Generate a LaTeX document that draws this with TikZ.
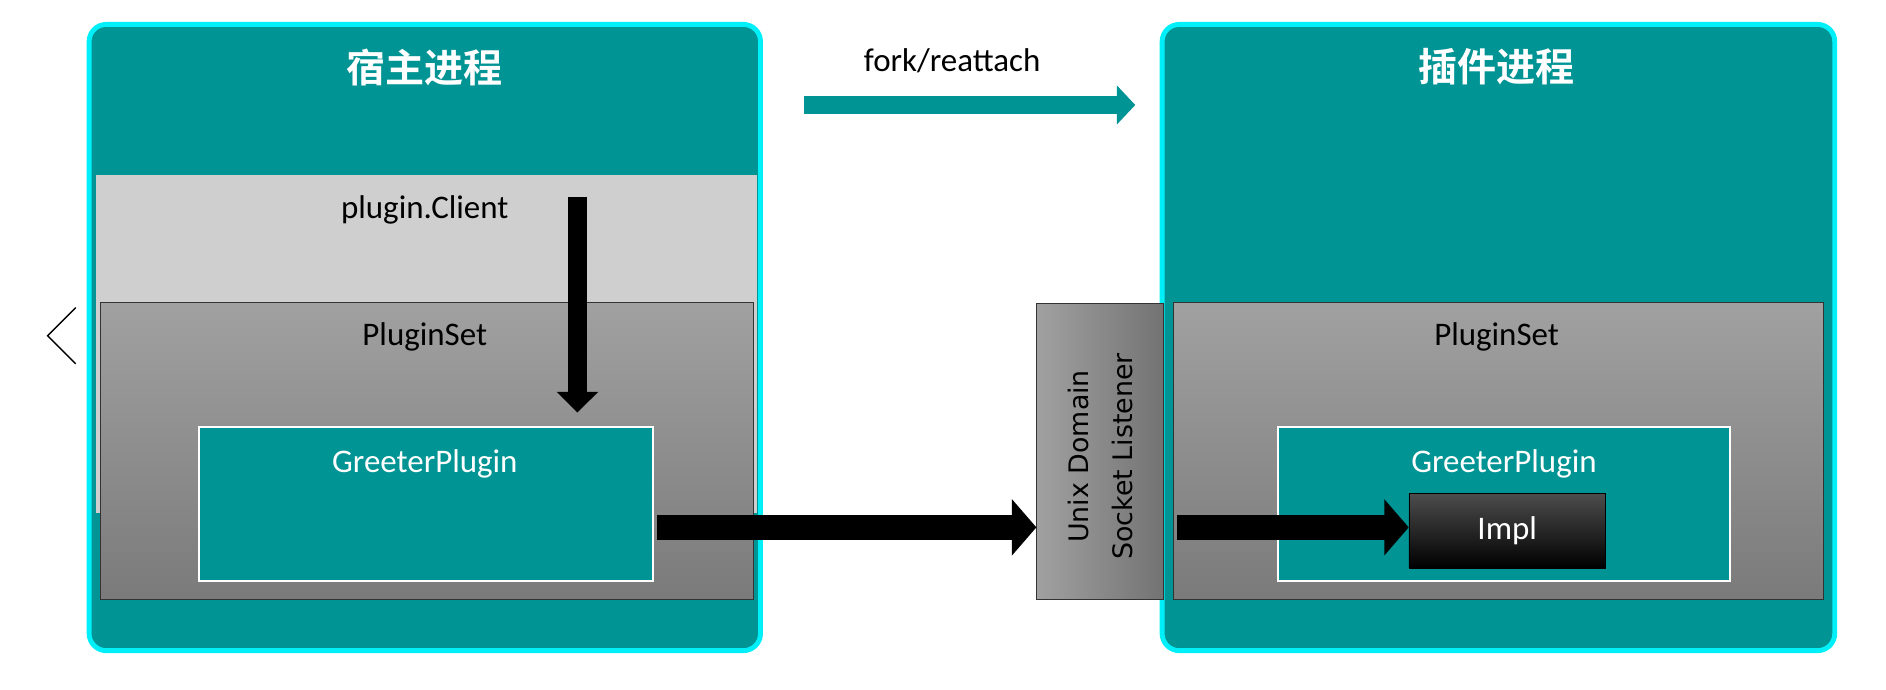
\documentclass[tikz,border=0pt]{standalone}
\usepackage{fontspec}
\setmainfont{Carlito}
\newfontfamily\cjk{Noto Sans CJK SC}[BoldFont={Noto Sans CJK SC Bold}]
\newfontfamily\wide{DejaVu Sans}
\usetikzlibrary{arrows.meta}
\definecolor{teal1}{RGB}{0,148,148}
\definecolor{cyan1}{RGB}{0,240,250}
\begin{document}
\begin{tikzpicture}[x=1pt,y=-1pt,
  proc/.style={draw=cyan1,line width=4pt,fill=teal1,rounded corners=14pt},
  setbox/.style={draw=black!80,line width=0.8pt,top color=black!37,bottom color=black!52},
  inner/.style={draw=white,line width=2pt,fill=teal1},
  lbl/.style={font=\fontsize{27}{30}\selectfont},
  blk/.style={line width=20pt,-{Triangle[width=45pt,length=20pt]}},
  ]
\useasboundingbox (0,0) rectangle (1545,565);
% left process
\draw[proc] (73,20) rectangle (623,533);
\fill[black!19] (79,143) rectangle (620,420);
\draw[setbox] (82,248) rectangle (617,491);
\draw[inner] (163,350) rectangle (535,476);
\node[font=\cjk\bfseries\fontsize{32}{36}\selectfont,text=white] (t1) at (348,55) {宿主进程};
\node[lbl] (pc) at (348,172) {plugin.Client};
\node[lbl] (ps1) at (348,276) {PluginSet};
\node[lbl,text=white] (gp1) at (348,380) {GreeterPlugin};
\coordinate (dtop) at (473,161);
\coordinate (dbot) at (473,338);
\draw[line width=16pt,-{Triangle[width=33pt,length=17pt]}] (dtop) -- (dbot);
% chevron
\draw[line width=1.2pt] (62,252) -- (39,275) -- (62,298);
% fork arrow
\node[lbl] (fork) at (780,50) {fork/reattach};
\coordinate (fa) at (659,86);
\coordinate (fb) at (930,86);
\draw[teal1,line width=14pt,-{Triangle[width=31pt,length=15pt]}] (fa) -- (fb);
% right process
\draw[proc] (952,20) rectangle (1503,533);
\draw[setbox] (961,248) rectangle (1494,491);
\draw[inner] (1047,350) rectangle (1417,476);
\node[font=\cjk\bfseries\fontsize{32}{36}\selectfont,text=white] (t2) at (1226,55) {插件进程};
\node[lbl] (ps2) at (1226,276) {PluginSet};
\node[lbl,text=white] (gp2) at (1232,380) {GreeterPlugin};
\node[draw=black,top color=black!70,bottom color=black,
  minimum width=161pt,minimum height=61pt,inner sep=0pt,anchor=north west,lbl,text=white]
  (impl) at (1154,404) {Impl};
% socket listener
\node[draw=black!80,line width=0.8pt,left color=black!37,right color=black!55,
  minimum width=104pt,minimum height=243pt,inner sep=0pt,anchor=north west] (uds) at (849,248) {};
\node[rotate=90,align=center,font=\wide\fontsize{22}{36}\selectfont] (udst) at ([yshift=-4pt]uds.center) {Unix Domain\\Socket Listener};
% data arrows
\coordinate (a1) at (538,432);
\draw[blk] (a1) -- (uds.west |- a1);
\coordinate (a2) at (964,432);
\draw[blk] (a2) -- (impl.west |- a2);
\end{tikzpicture}
\end{document}
